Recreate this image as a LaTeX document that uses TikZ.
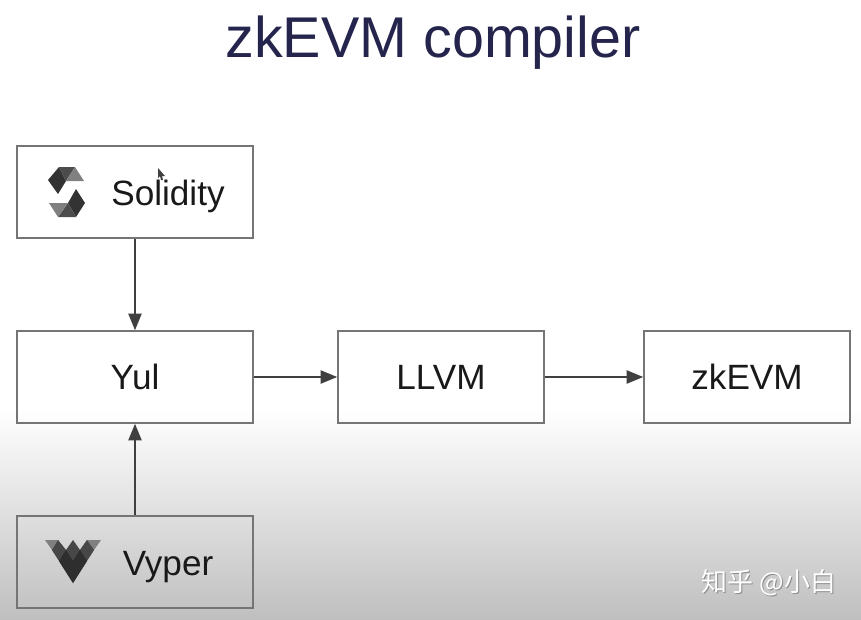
\documentclass[tikz,border=0pt]{standalone}
\usepackage{fontspec}
\setmainfont{Liberation Sans}
\newfontfamily\cjk{Noto Sans CJK SC}
\definecolor{titleblue}{HTML}{24244C}
\definecolor{boxline}{HTML}{757575}
\definecolor{arrowline}{HTML}{404040}
\usetikzlibrary{arrows.meta}
\tikzset{
	block/.style={draw=boxline, line width=0.9pt, minimum width=4.72cm, minimum height=1.84cm, inner sep=0pt},
	smallblock/.style={block, minimum width=4.12cm},
	blocktext/.style={font=\fontsize{20}{24}\selectfont, text=black!90, inner sep=0pt},
	link/.style={-{Triangle[length=9.5pt,width=7.5pt]}, draw=arrowline, line width=1.1pt},
}
\begin{document}
\begin{tikzpicture}[x=0.02cm,y=-0.02cm]
		\useasboundingbox (0,0) rectangle (861,619);
		\fill[white] (0,0) rectangle (861,410);
		\shade[top color=white, bottom color=black!25] (0,410) rectangle (861,619);
		\node[font=\fontsize{32.7}{38}\selectfont, text=titleblue, inner sep=0pt] (title) at (433,43) {zkEVM compiler};
		% boxes
		\node[block] (solidity) at (135,192) {};
		\node[block, blocktext] (yul) at (135,377) {Yul};
		\node[smallblock, blocktext] (llvm) at (441,377) {LLVM};
		\node[smallblock, blocktext] (zkevm) at (747,377) {zkEVM};
		\node[block] (vyper) at (135,562) {};
		\node[blocktext] (soliditytext) at (168,196) {Solidity};
		\node[blocktext] (vypertext) at (168,567) {Vyper};
		% arrows
		\draw[link] (solidity) -- (yul);
		\draw[link] (vyper) -- (yul);
		\draw[link] (yul) -- (llvm);
		\draw[link] (llvm) -- (zkevm);
		% solidity logo
		\fill[black!80] (48,180) -- (59,167) -- (66,181) -- (58,194) -- cycle;
		\fill[black!70] (59,167) -- (75,167) -- (66,181) -- cycle;
		\fill[black!50] (75,167) -- (84,181) -- (66,181) -- cycle;
		\fill[black!80] (85,203) -- (76,217) -- (68,203) -- (76,189) -- cycle;
		\fill[black!70] (76,217) -- (58,217) -- (68,203) -- cycle;
		\fill[black!50] (58,217) -- (49,203) -- (68,203) -- cycle;
		% vyper logo
		\fill[black!50] (45,540) -- (58,540) -- (66,550) -- (59,560) -- cycle;
		\fill[black!50] (101,540) -- (87,540) -- (80,550) -- (87,560) -- cycle;
		\fill[black!72] (52,550) -- (58,540) -- (66,550) -- (73,540) -- (80,550) -- (87,540) -- (94,550) -- (73,583) -- cycle;
		\fill[black!82] (66,550) -- (73,561) -- (80,550) -- (87,561) -- (73,583) -- (59,561) -- cycle;
		% mouse pointer
		\fill[black!75] (158,168) -- (165,176) -- (162,176) -- (163,180) -- (161,180) -- (160,176) -- (158,178) -- cycle;
		% watermark
		\node[font=\cjk\fontsize{14.8}{17}\selectfont, text=black!45, inner sep=0pt] (markshadow) at (770,584) {知乎 @小白};
		\node[font=\cjk\fontsize{14.8}{17}\selectfont, text=white, inner sep=0pt] (mark) at (769,583) {知乎 @小白};
	\end{tikzpicture}
\end{document}
